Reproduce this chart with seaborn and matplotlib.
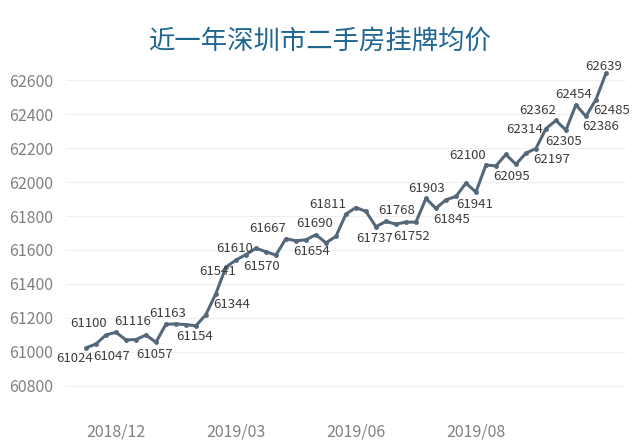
import matplotlib
matplotlib.use('Agg')

import matplotlib.pyplot as plt
import seaborn as sns
import pandas as pd
import numpy as np

title = '近一年深圳市二手房挂牌均价'

# weekly listing price, 53 points
prices = [61024, 61047, 61100, 61116, 61071, 61073, 61100, 61057, 61163, 61165,
          61161, 61154, 61220, 61344, 61499, 61541, 61573, 61610, 61590, 61570,
          61667, 61654, 61660, 61690, 61642, 61680, 61811, 61850, 61827, 61737,
          61768, 61752, 61764, 61764, 61903, 61845, 61895, 61915, 61993, 61941,
          62100, 62095, 62162, 62104, 62170, 62197, 62314, 62362, 62305, 62454,
          62386, 62485, 62639]

tick_pos = [3, 15, 27, 39]
tick_labels = ['2018/12', '2019/03', '2019/06', '2019/08']

# which points carry a value label, and where the label sits (pixels)
label_idx = [0, 1, 2, 3, 7, 8, 11, 13, 15, 17, 19, 20, 21, 23, 26, 29, 30, 31,
             34, 35, 39, 40, 41, 45, 46, 47, 48, 49, 50, 51, 52]
label_off = [(-11, -11), (16, -13), (-17, 11), (17, 11), (-1, -12), (2, 11),
             (-1, -11), (16, -11), (-18, -11), (-21, 0), (-14, -11), (-18, 10),
             (16, -11), (-1, 11), (-18, 10), (-1, -12), (11, 11), (16, -12),
             (1, 10), (16, -11), (-1, -12), (-18, 10), (16, -11), (16, -11),
             (-21, -1), (-18, 10), (-2, -11), (-2, 10), (15, -10), (16, -11),
             (-2, 7)]

df = pd.DataFrame({'i': np.arange(len(prices)), 'price': prices})

sns.set_theme(style="white")
plt.rcParams['font.family'] = ['Noto Sans CJK SC', 'DejaVu Sans']

fig = plt.figure(figsize=(6.4, 4.47), dpi=100)
ax = fig.add_axes([0.103, 0.0985, 0.875, 0.7605])

line_color = '#55687b'
sns.lineplot(data=df, x='i', y='price', ax=ax, color=line_color, linewidth=2.2,
             marker='o', markersize=3.5, markeredgewidth=0, markerfacecolor=line_color)

for k, (dx, dy) in zip(label_idx, label_off):
    ax.annotate(str(prices[k]), xy=(k, prices[k]), xytext=(dx, dy),
                textcoords='offset pixels', ha='center', va='center',
                fontsize=9.5, color='#3c3c3c')

ax.set_xlim(-2, 54)
ax.set_ylim(60700, 62700)
ax.set_yticks(np.arange(60800, 62601, 200))
ax.set_xticks(tick_pos)
ax.set_xticklabels(tick_labels)
ax.set(xlabel='', ylabel='')
ax.tick_params(axis='both', length=0, labelsize=11.5, labelcolor='#808080')
ax.tick_params(axis='y', pad=9)
ax.tick_params(axis='x', pad=15)
ax.yaxis.grid(True, color='#efefef', linewidth=0.8)
ax.xaxis.grid(False)
sns.despine(ax=ax, left=True, bottom=True)

fig.text(0.5, 0.908, title, ha='center', va='center', fontsize=19, color='#1f6792')

plt.savefig('out.png', dpi=100)
